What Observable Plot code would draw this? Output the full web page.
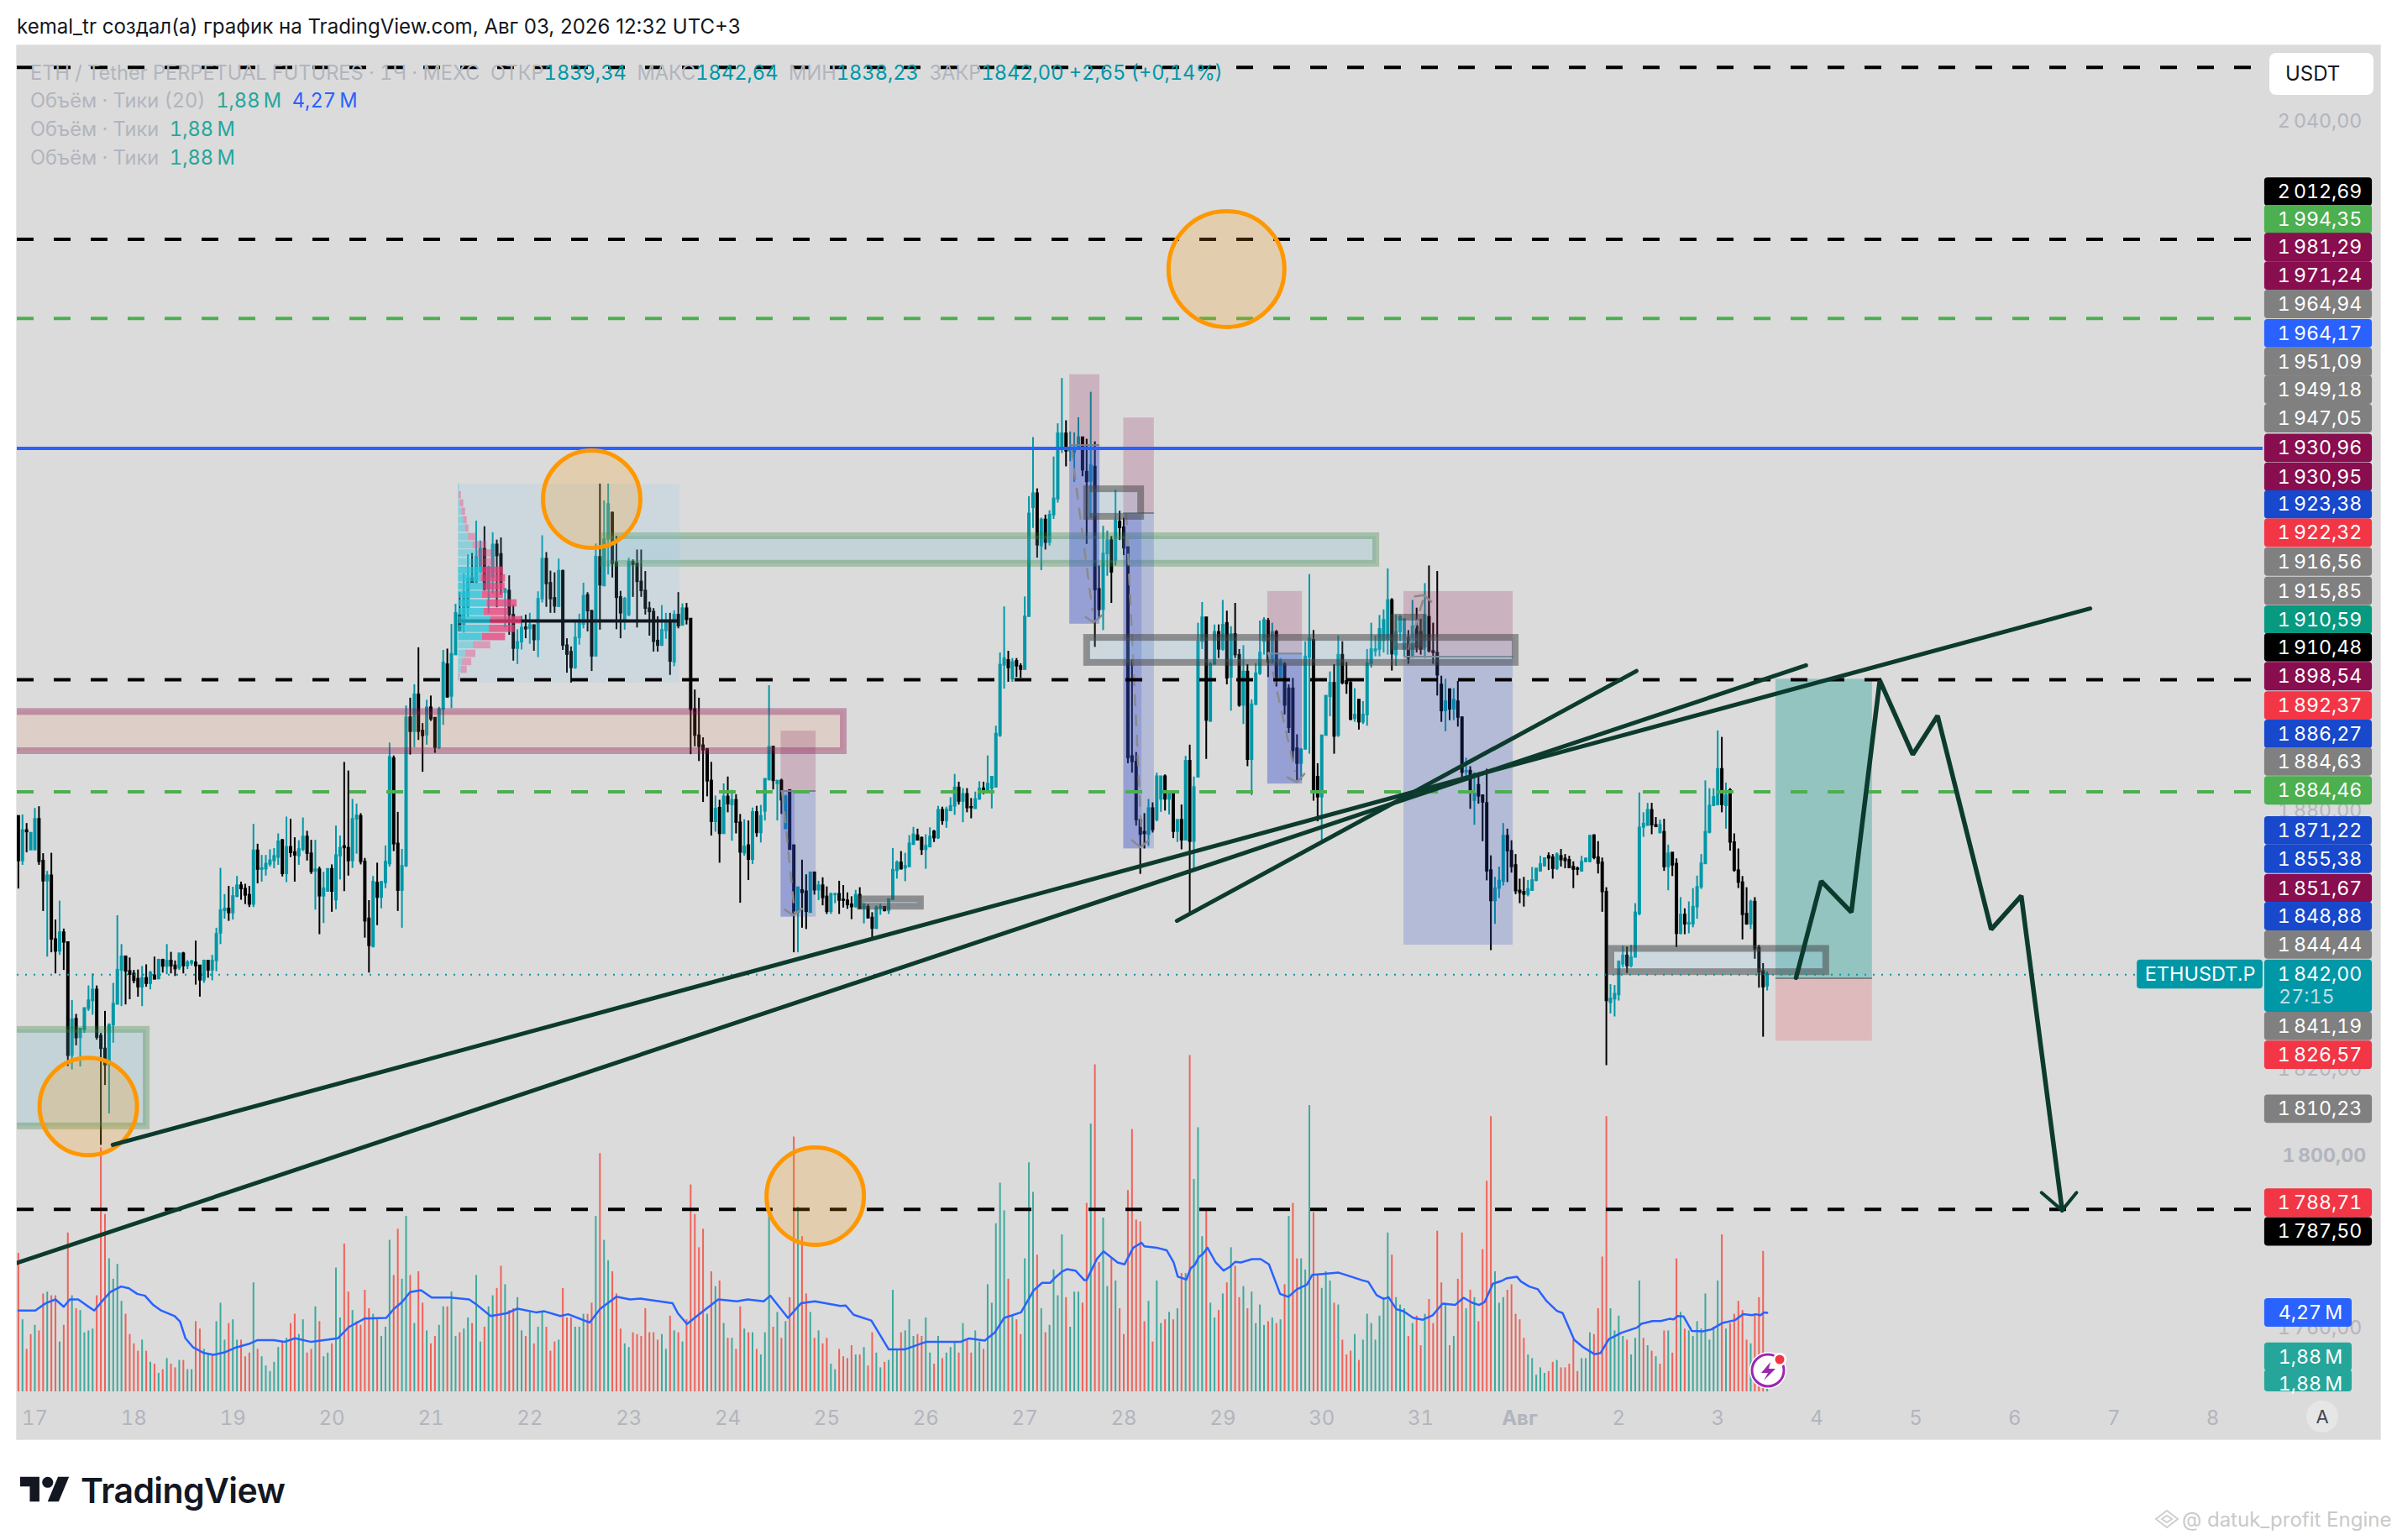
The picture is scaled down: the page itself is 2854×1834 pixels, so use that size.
<!DOCTYPE html>
<html lang="ru">
<head>
<meta charset="utf-8">
<title>ETHUSDT.P</title>
<script src="https://cdn.jsdelivr.net/npm/d3@7"></script>
<script src="https://cdn.jsdelivr.net/npm/@observablehq/plot@0.6"></script>
<style>
html,body{margin:0;padding:0;background:#fff;overflow:hidden}
#page{position:relative;width:2854px;height:1834px;background:#fff;font-family:Inter,"Noto Sans",sans-serif;overflow:hidden}
#title{position:absolute;left:20px;top:16px;font-size:24.05px;line-height:32px;color:#131722;white-space:nowrap}
#panel{position:absolute;left:20px;top:54px;width:2814px;height:1660px;background:#dbdbdb;outline:1px solid #e6e6e6}
#panel svg{position:absolute;left:0;top:0}
.row{position:absolute;left:36px;font-size:23.6px;line-height:34px;color:#b2b5be;white-space:pre;font-variant-numeric:tabular-nums}
.teal{color:#0097a7}.green{color:#26a69a}.blue{color:#2962ff}
#usdt{position:absolute;left:2702px;top:63px;width:124px;height:50px;border-radius:8px;background:#fff;color:#131722;font-size:24px;line-height:50px;text-indent:19px}
#auto{position:absolute;left:2746px;top:1668px;width:38px;height:38px;border-radius:19px;background:#e6e6e6;color:#434651;font-size:22px;line-height:38px;text-align:center}
#brand{position:absolute;left:96px;top:1750px;font-size:41px;line-height:50px;font-weight:600;color:#131722;letter-spacing:-.6px}
#logo{position:absolute;left:24px;top:1752px}
#bolt{position:absolute;left:2080px;top:1607px}
#mark{position:absolute;left:2598px;top:1796px;font-size:24px;line-height:28px;color:#c9c9c9;white-space:nowrap}
#markIcon{position:absolute;left:2565px;top:1797px}
</style>
</head>
<body>
<div id="page">
  <div id="title">kemal_tr создал(а) график на TradingView.com, Авг 03, 2026 12:32 UTC+3</div>
  <div id="panel"></div>
  <div class="row" style="top:70px">ETH / Tether PERPETUAL FUTURES · 1Ч · MEXC  ОТКР<span class="teal">1839,34</span>  МАКС<span class="teal">1842,64</span>  МИН<span class="teal">1838,23</span>  ЗАКР<span class="teal">1842,00 +2,65 (+0,14%)</span></div>
  <div class="row" style="top:103px">Объём · Тики (20)  <span class="green">1,88&#8201;M</span>  <span class="blue">4,27&#8201;M</span></div>
  <div class="row" style="top:137px">Объём · Тики  <span class="green">1,88&#8201;M</span></div>
  <div class="row" style="top:171px">Объём · Тики  <span class="green">1,88&#8201;M</span></div>
  <div id="usdt">USDT</div>
  <div id="auto">A</div>
  <svg id="logo" width="59" height="43" viewBox="0 0 36 26"><path fill="#131722" d="M14 22H7V11H0V4h14v18zM28 22h-8l7.5-18h8L28 22z"/><circle fill="#131722" cx="20" cy="8" r="4"/></svg>
  <div id="brand">TradingView</div>
  <svg id="bolt" width="50" height="50" viewBox="0 0 50 50"><circle cx="25" cy="25" r="22" fill="#fff"/><circle cx="25" cy="25" r="19" fill="none" stroke="#9c27b0" stroke-width="3"/><path d="M28 15 L17 28 H25 L20 37 L34 23 H26 Z" fill="#9c27b0"/><circle cx="39" cy="12" r="8" fill="#fff"/><circle cx="39" cy="12" r="5.5" fill="#f23645"/></svg>
  <svg id="markIcon" width="30" height="26" viewBox="0 0 30 26"><path d="M15 2 L28 12 L15 22 L2 12 Z M15 8 L21 12 L15 16 L9 12 Z" fill="none" stroke="#cfcfcf" stroke-width="2"/></svg>
  <div id="mark">@ datuk_profit Engine</div>
</div>
<script>
// ---------- candles: [open, high, low, close], one array per day, hourly bars ----------
const jul16 = [[1878.8,1878.8,1861.9,1868.4],[1868.4,1879.1,1867.4,1875.5],[1875.5,1877.1,1870.3,1875.1],[1870.9,1874.9,1870.9,1874.9]];
const jul17 = [[1870.9,1880.6,1870.9,1878.1],[1878.1,1881,1867.4,1868.2],[1868.4,1870.1,1856.7,1863.7],[1863.7,1866,1846.1,1865],[1865,1870.2,1847.1,1850.2],[1850.2,1854.7,1842.2,1847.4],[1847.4,1859.1,1846.5,1851.8],[1851.8,1852.6,1843,1849.5],[1849.5,1849.5,1820.7,1823.2],[1823.2,1836,1819.9,1831.6],[1831.7,1832.8,1825.5,1827.3],[1827.3,1829.4,1820.6,1829.4],[1829.2,1834.2,1828.4,1834.2],[1834.1,1839.4,1833.5,1836],[1835.9,1842.2,1832.6,1838.5],[1838.5,1839.4,1826.8,1827.4],[1827.8,1828.4,1802.4,1824.8],[1824.8,1833.5,1816.3,1821],[1821,1830.6,1809.7,1830.3],[1830.3,1840,1826.1,1835.2],[1835.1,1855.7,1835,1843.1],[1843,1849,1834.6,1846.2],[1846.2,1846.3,1835,1842.8],[1842.8,1845.9,1836.2,1842]];
const jul18 = [[1842.2,1843,1839.9,1840.6],[1841,1843.1,1836.8,1839.1],[1839.1,1843.9,1834.6,1841.2],[1841.2,1844.3,1839.1,1839.9],[1839.9,1842.8,1838.5,1842.4],[1841.8,1846.1,1840.9,1840.9],[1841,1845.6,1840.8,1845.4],[1845.4,1845.6,1842.4,1843.9],[1843.9,1849,1842,1845.2],[1845.2,1847.2,1842.2,1844],[1844.1,1845.2,1841.6,1843.3],[1843.5,1846.9,1843,1846.9],[1846.9,1847.2,1842.2,1844],[1844,1845.3,1843.2,1844.8],[1844.6,1845.3,1844,1845.1],[1844.8,1849.8,1839.6,1844],[1844.1,1844.1,1836.8,1840.7],[1840.7,1845.4,1840,1845.2],[1845.2,1845.3,1841.2,1843],[1843,1846.5,1840.6,1845.2],[1845.2,1852.8,1842.7,1851.4],[1851.6,1866.7,1849,1856.9],[1856.8,1860.6,1854.9,1857.3],[1857.3,1862.5,1854.4,1856.3]];
const jul19 = [[1856.3,1862.3,1854.7,1860.2],[1860.1,1864.8,1859.9,1862.7],[1862.7,1863.5,1859.3,1861.9],[1861.9,1863,1858.3,1860.4],[1860.5,1862.5,1857.6,1858.3],[1858.3,1876.9,1857.6,1870.8],[1870.8,1872.3,1863.1,1866.4],[1866.4,1869.7,1863.5,1866.7],[1866.5,1869.7,1864.9,1867.7],[1867.6,1871,1867,1868.5],[1868.4,1871.3,1866.6,1869.5],[1869.2,1874.7,1867.4,1872.9],[1873.2,1873.4,1864.7,1865.4],[1865.4,1878.6,1863.4,1871.6],[1871.6,1878.1,1869.2,1870.3],[1870.4,1873.8,1863.5,1869.7],[1869.5,1873.1,1867.4,1871.1],[1871,1878.4,1870.6,1874],[1874,1875.3,1868.4,1870.1],[1870.1,1873.2,1865.3,1865.9],[1866,1873.2,1857,1866.4],[1866.4,1867,1851.3,1860.2],[1860.2,1865.8,1853.9,1862],[1861.3,1866.5,1861.2,1866.5]];
const jul20 = [[1866.5,1867.5,1856.5,1861.3],[1859.3,1876.5,1857.1,1869.7],[1869.5,1874.2,1864,1871.4],[1871.8,1891.3,1861.3,1871.4],[1871.4,1889.3,1864.9,1868.4],[1868.4,1882.7,1866.7,1878.1],[1878.1,1881.6,1870,1878.9],[1878.8,1879.4,1867.5,1868.2],[1868.2,1869,1850.5,1854.4],[1855,1859.2,1842.4,1848.7],[1848.5,1864.8,1848.2,1863.5],[1863.3,1867.9,1853.4,1859.9],[1859.9,1863.5,1857.3,1863.5],[1863.3,1871.9,1862,1868.2],[1867.7,1895.8,1867,1892.5],[1892.2,1892.8,1870.6,1872.3],[1872.4,1879.7,1856.7,1861.5],[1861.5,1871.1,1852.8,1867.2],[1867.2,1904.4,1866.9,1901.7],[1901.7,1906.2,1893,1898.4],[1898.4,1909.3,1894.7,1907],[1907,1917.9,1896.4,1898.4],[1898.6,1900.3,1889,1897.4],[1897.6,1905.7,1895.3,1904]];
const jul21 = [[1904,1906.7,1900.8,1901.3],[1901.6,1901.7,1893.4,1894.7],[1894.7,1904.1,1894.3,1903.6],[1903.6,1917.3,1899.9,1914.4],[1914,1917.6,1906.2,1906.4],[1906.6,1923.3,1903.8,1916.4],[1916.2,1928,1916.2,1925.9],[1925.5,1930.7,1921.6,1921.8],[1923.3,1935,1921.3,1930.7],[1927.2,1939.5,1925,1934],[1934,1939.8,1932.9,1933],[1933,1947.3,1932.7,1938.9],[1935.6,1942.7,1935,1940.8],[1940.8,1946,1931.1,1931.4],[1931.4,1936.9,1925.9,1936.6],[1934.3,1944.6,1930.4,1941.8],[1941.8,1942.9,1927.2,1939.2],[1939.6,1943.4,1930.1,1933],[1930.7,1931.7,1922.6,1931.4],[1931.1,1934.6,1920.8,1925.5],[1925.5,1927.8,1914.8,1917.7],[1917.7,1922.1,1914,1919.2],[1919.2,1925.2,1917.4,1922.5],[1922.6,1925.5,1920,1922.2]];
const jul22 = [[1922.3,1925.9,1918.7,1923.1],[1923.1,1923.1,1917.1,1919.7],[1919.7,1930.9,1915.6,1929.2],[1929.2,1943.9,1928.3,1938.5],[1938.5,1940,1927.3,1932.7],[1932.9,1935.7,1925.9,1929.2],[1929.4,1935.3,1925.9,1927.5],[1927.4,1938.5,1927.4,1935.7],[1935.7,1935.9,1917.3,1918.4],[1918.4,1920,1912,1916.3],[1916.9,1918.1,1909.7,1913.2],[1913.2,1923.8,1912.9,1920.2],[1920.2,1925.7,1918.5,1923.6],[1923.3,1932.9,1922.3,1929.9],[1930.1,1930.7,1921.6,1926.4],[1926.4,1926.6,1912.4,1915.9],[1915.9,1942,1915.9,1939],[1938.9,1955.9,1922,1932.4],[1932.2,1952,1932.2,1943],[1943,1955.9,1934.8,1951.2],[1949.2,1949.4,1934.1,1937.4],[1937.7,1943.8,1922.1,1929.5],[1929.6,1931,1920,1925.9],[1924.2,1929.6,1922,1929.2]];
const jul23 = [[1925.5,1938.7,1925.1,1937.8],[1937.8,1938.3,1929.6,1937.2],[1937.4,1940.6,1922.5,1933.2],[1933.2,1940.6,1929.6,1931.1],[1931.1,1935.6,1925.5,1927],[1927,1928.5,1920.6,1926.2],[1926.2,1927,1916.9,1919.3],[1919.5,1925.1,1916.9,1918.4],[1918.4,1927.7,1918.2,1922],[1921.8,1925.9,1919.9,1924],[1924,1925.9,1911.5,1914.7],[1914.5,1926.5,1913.5,1925.5],[1925.5,1930.7,1922.3,1922.9],[1923.1,1928.1,1922.9,1927],[1927,1928.2,1923.2,1924.4],[1924.6,1924.6,1893.1,1903.5],[1903.6,1908.1,1894.9,1897.5],[1897.5,1906.2,1891.5,1894.9],[1895.2,1897,1882,1894.1],[1894.3,1894.5,1883.3,1886.9],[1887,1891.3,1874.2,1877.5],[1877.5,1883.5,1875.1,1880.5],[1880.7,1882.5,1867.9,1874.7],[1874.7,1886.3,1874.7,1883.3]];
const jul24 = [[1883.3,1887.9,1879.6,1881.6],[1881.4,1884.8,1873,1882.5],[1882.5,1883.8,1874.7,1877.3],[1877.3,1879.2,1858.6,1870.4],[1870.2,1878,1869.5,1871.7],[1872,1877.7,1863.9,1868.7],[1868.7,1880.7,1867.6,1879.7],[1879.7,1881.1,1873.9,1874.9],[1874.9,1881.3,1872.6,1878.8],[1879.9,1887.5,1877.7,1887.4],[1887.2,1909.1,1887,1894.9],[1894.9,1894.9,1884.9,1887],[1886.3,1887,1877.7,1887],[1887,1887.4,1879.2,1882.5],[1875.8,1883.7,1875.8,1883.3],[1884.8,1884.8,1871,1871],[1872,1872,1847.1,1856.4],[1856.4,1862.4,1847.1,1862.2],[1861.6,1868.6,1852.8,1861],[1861.3,1865.2,1852.5,1856.6],[1856.4,1865.7,1856.4,1865.7],[1865.7,1865.7,1860.5,1861.6],[1861.6,1863.7,1859.2,1862.7],[1862.7,1864.5,1858,1859.8]];
const jul25 = [[1860.1,1862.4,1856,1856.6],[1856.6,1860.9,1856,1860.7],[1860.5,1860.9,1858.5,1860.7],[1860.7,1863.7,1856,1859.2],[1859.4,1862.7,1857.5,1859.2],[1859.2,1861,1857.2,1858.2],[1858.3,1860.1,1854.8,1857.7],[1857.7,1861.6,1857.5,1860.5],[1860.5,1862.2,1857.2,1857.3],[1857.3,1858.3,1853.8,1858.3],[1857.7,1858.3,1855,1855.1],[1855.2,1856.4,1850.2,1852.7],[1852.7,1858,1852.5,1857.5],[1857.5,1858.4,1855.8,1857.7],[1857.7,1857.7,1856.6,1856.8],[1856.8,1859.5,1856,1859.5],[1859.4,1871.3,1859.2,1866.3],[1866.1,1868.4,1864.2,1868],[1868,1870.6,1866.3,1866.5],[1866.7,1870.2,1863.6,1867.2],[1867,1874.3,1867,1872.4],[1872.2,1876.2,1872,1874.5],[1874.3,1875.8,1873.2,1873.2],[1873.7,1874,1869.7,1871]];
const jul26 = [[1871,1874.5,1866.5,1871.9],[1871.6,1876.1,1871.6,1874],[1875.2,1875.5,1872.7,1873.7],[1873.7,1881.1,1873.4,1880.2],[1880.2,1880.9,1876.7,1877.7],[1877.7,1880.9,1876,1880.3],[1880,1883.1,1880,1881.1],[1881.1,1888.5,1879,1885.4],[1885.4,1886.7,1881.4,1882.2],[1882.2,1885.2,1877.3,1883.9],[1883.9,1885.2,1879.6,1880.7],[1880.9,1882.9,1878.2,1880.7],[1880.5,1884.4,1880.5,1882.7],[1882.7,1886.8,1882.5,1885.2],[1885.2,1886.7,1883.8,1884.8],[1884.8,1892.8,1884.6,1886.3],[1885.2,1887.9,1880.5,1887.9],[1885.5,1899.7,1885.4,1897.9],[1897.5,1916.7,1897.1,1913.9],[1913.8,1927.4,1908.3,1915.4],[1915,1917.1,1909.9,1913.2],[1910.6,1915.4,1909.9,1914.5],[1914.8,1915.4,1911,1913.6],[1913.6,1914.2,1910.8,1912.8]];
const jul27 = [[1912.8,1929.7,1912.8,1925.1],[1925.1,1953,1925.1,1949],[1950.4,1966.7,1945.6,1953.7],[1953.7,1954.8,1938.7,1941.7],[1941.5,1948,1935.8,1947.6],[1947.6,1948.7,1940.6,1942.3],[1942.3,1949.7,1941.5,1948.7],[1948.7,1962.2,1947.7,1952.5],[1952.4,1969.9,1951.5,1967.6],[1964.1,1980.4,1963,1967.6],[1967.6,1970.6,1959.9,1963.5],[1963.5,1968,1961.1,1964.1],[1963.2,1967.8,1956.3,1964.1],[1964.4,1971.3,1963.7,1966.7],[1966.7,1966.7,1957.6,1959.1],[1958.7,1966.3,1941.9,1956.4],[1956.5,1977.2,1948,1960.2],[1959.9,1965.7,1918,1931.3],[1931.5,1936.9,1924.5,1926.7],[1926.7,1946.1,1921.9,1939.7],[1939.7,1945,1934.5,1942.8],[1942.8,1943.7,1928.2,1935.4],[1938.2,1954.5,1936.9,1947.4],[1947.1,1949.6,1942.8,1945.7]];
const jul28 = [[1945.8,1948,1939.3,1941],[1941.2,1941.2,1891,1892.3],[1892.7,1915,1888.8,1891.4],[1891.4,1893.6,1876.5,1877.9],[1877.9,1877.9,1865.3,1874.5],[1875.1,1879.4,1871.2,1874.7],[1874.5,1882.7,1871.8,1880.6],[1880.6,1881.9,1874.9,1875.6],[1877.9,1888.8,1877.5,1888],[1882.7,1888,1879.7,1888],[1888,1888.4,1880,1882.7],[1882.7,1884.5,1879.1,1883.9],[1883.9,1884,1873.6,1875.2],[1875.2,1877.9,1872.7,1877.9],[1877.9,1881.4,1871,1873.2],[1873.2,1892.7,1873.2,1891.6],[1891.6,1895.3,1856.2,1872.9],[1872.9,1887.9,1866.6,1885.5],[1887.8,1923.6,1887.8,1919.3],[1919.3,1928.4,1917.5,1924.9],[1924.9,1924.9,1892,1901],[1900.8,1914.5,1900.6,1914],[1914,1923.2,1914,1921.5],[1921.5,1923.2,1915.4,1917.5]];
const jul29 = [[1917.5,1928.9,1917.1,1923.2],[1923.6,1926.4,1909.3,1910.8],[1911,1922.8,1903.2,1921],[1921,1928.2,1915.4,1916.2],[1916.2,1917.5,1904.1,1904.5],[1904.5,1918.4,1900.1,1912.3],[1912.3,1914,1890.3,1891.9],[1891.9,1905.8,1883.6,1904.7],[1904.7,1914.2,1904.5,1911.9],[1911.9,1924.1,1911.5,1916.7],[1919.3,1924.9,1916.2,1924.3],[1924.1,1924.7,1911,1914.5],[1914.5,1923.6,1914.1,1921.5],[1921.5,1921.9,1908.8,1911],[1911,1915.4,1910.6,1914.9],[1914,1914.5,1902.3,1904.5],[1908.4,1909.3,1898,1899.3],[1908.4,1910.8,1891.4,1894],[1894.5,1897.7,1887.1,1891],[1891,1894.5,1887.1,1894.2],[1894.3,1919.3,1894.2,1915.8],[1915.6,1934.9,1893.2,1920],[1919.7,1921.9,1882.3,1884.9],[1887.9,1891,1877.5,1883.2]];
const jul30 = [[1883.2,1897.5,1872.3,1897.5],[1897.5,1906.7,1897.5,1906.7],[1906.5,1912.3,1901.9,1909.7],[1909.7,1914,1893.2,1897.3],[1897.5,1920.6,1897.1,1916.2],[1916.2,1919.3,1909.3,1909.7],[1910.1,1914.5,1907.1,1909.5],[1909.7,1910.6,1901,1901.2],[1901.4,1908.4,1900.6,1902.3],[1905.8,1905.8,1898.8,1900.6],[1900.6,1905.4,1900.1,1902.3],[1902.3,1917.5,1899.7,1914.2],[1914.2,1923.6,1913.2,1917.5],[1917.1,1920.6,1915.8,1917.5],[1917.5,1925.4,1915.8,1922.2],[1919.5,1926.7,1916.7,1924.3],[1919.7,1936.2,1916.2,1928.9],[1928.9,1929.3,1912.5,1916.4],[1916.2,1925.4,1913.6,1921.5],[1921.5,1925.4,1919.3,1925],[1917.5,1924.5,1915.8,1924.5],[1920.2,1921.9,1914.1,1915.4],[1915.8,1928.9,1915.4,1922.8],[1922.8,1927.1,1916.7,1918]];
const jul31 = [[1921.5,1924.5,1916.2,1917.5],[1918,1932.8,1915.4,1925.4],[1925,1936.9,1916.7,1917.1],[1917.1,1923.6,1914.1,1916.7],[1916.7,1935.6,1906.7,1911.5],[1909.3,1911.3,1900.6,1903.2],[1903.2,1910.6,1898.4,1905.4],[1908.2,1908.4,1901,1903.6],[1903.6,1908.4,1901,1905.8],[1905.4,1910.1,1899.5,1901.7],[1901.7,1901.8,1887.6,1888.9],[1889,1892.3,1886.9,1889.3],[1889.3,1890.3,1880.4,1884.8],[1882.4,1888.9,1876.7,1884],[1886,1888.5,1881.6,1883.4],[1883.6,1883.6,1872.9,1882],[1881.8,1889.7,1863.8,1866],[1866.2,1869.6,1847.6,1859.1],[1859.1,1864.6,1853.7,1862],[1862,1867,1859.7,1863.8],[1863.6,1877.1,1862.6,1874.2],[1874.2,1875.8,1863.4,1870.7],[1870.7,1873.1,1865.6,1867],[1867.4,1869.9,1860.6,1861.4]];
const aug01 = [[1861.5,1864.2,1858.5,1861],[1861.2,1864.6,1857.7,1860.6],[1860.6,1863.9,1860.1,1861.8],[1861.5,1866.9,1861.4,1863.9],[1863.8,1866.6,1863.6,1866.6],[1866,1869.5,1865.8,1867.6],[1867.2,1869,1867,1869],[1869.5,1870.3,1866.2,1869],[1869.2,1869.9,1864.2,1866.6],[1866.6,1870.3,1866.2,1869.9],[1869.5,1871.1,1867,1868.6],[1868.9,1869.9,1866.6,1868.4],[1868.6,1869.5,1866.6,1866.8],[1867,1868.2,1862,1866.4],[1866.6,1867,1865,1866.4],[1866,1869.5,1865.8,1868.2],[1868.2,1869.1,1868,1868.9],[1868.2,1874.3,1868,1874.2],[1874.3,1874.5,1868.7,1869.1],[1869.2,1872.9,1865.4,1867.8],[1868,1869.1,1856.5,1861.2],[1861.2,1862.2,1820.9,1835.9],[1835.5,1839.7,1832.9,1836.4],[1836.3,1839.5,1832.2,1837.5]];
const aug02 = [[1837.3,1845.2,1835.9,1845],[1844.4,1848.6,1843.6,1846.4],[1846.4,1848.4,1842.3,1844],[1844,1848.8,1843.6,1846],[1846,1858.5,1846,1856.4],[1856.1,1884.2,1855.7,1876.1],[1876.2,1879.6,1873.9,1877],[1876.6,1881.8,1876.5,1880.2],[1880.2,1881.8,1874.5,1876.7],[1876.7,1878.5,1876.3,1876.3],[1874.9,1877.9,1874.7,1876.7],[1875.1,1878.1,1866,1867],[1867,1872.1,1861.5,1870.1],[1870.3,1870.3,1864.8,1867.4],[1867.7,1868.9,1848.3,1851.5],[1851.5,1859.9,1851.3,1855.9],[1855.9,1857.3,1851.3,1853.7],[1853.7,1858.9,1851.5,1854],[1853.7,1862,1852.9,1857.7],[1857.7,1864.9,1854.9,1862.3],[1862.3,1869.9,1861.8,1867.8],[1867.7,1887,1867.7,1875.1],[1875,1885.2,1874.7,1881.2],[1881.2,1885.2,1881.2,1883.2]];
const aug03 = [[1881.4,1898.6,1881.2,1889.7],[1889.7,1897.1,1879.6,1881.4],[1881.2,1886.5,1875.8,1883.6],[1884.8,1885.2,1870.7,1872.7],[1872.7,1874.7,1865.8,1866.2],[1866.2,1871.2,1862,1863.4],[1863.4,1864.8,1850.1,1855.9],[1856.1,1862.2,1853.5,1853.7],[1853.7,1859.3,1852.5,1858.9],[1858.9,1859.9,1845.6,1847.8],[1848.2,1848.8,1838.9,1842.6],[1842.8,1844.6,1827.5,1839.1],[1839.34,1842.64,1838.23,1842]];

// ---------- tick volume in millions per hour; negative = red bar, positive = green bar ----------
const volumes = [
-7.5,3.9,-2.3,-3.1,
3.6,-3.3,-5.3,5.4,-5.2,-5.2,2.7,-3.6,-8.6,5.2,-4.5,4.4,3.2,3.3,3.4,-5.2,-13.2,-9.6,7.2,6.1,6.9,4.9,-4.2,-3.1,
-2.6,-2.2,2.8,-2.2,1.6,-1.5,1,-1.2,1.8,-1.5,-1.3,1.7,-1.7,1.2,1.2,-3.8,-3.4,2.3,2,-2,3.8,4.8,2.8,-3.7,
3.9,2.8,-2.8,-1.9,-2.1,5.9,-2.3,1.9,1.4,1.1,1.6,2.4,-2.7,2.9,-3.7,-4.2,3.1,3.9,-2.1,-2.3,4.6,-3.8,1.9,2.1,
-2.6,6.7,4,-8,-5.4,4.4,-3.8,-3.6,-5.5,-4.5,4.2,-4,3,3.5,8.2,-6.3,-8.8,6.1,9.5,-6.3,3.7,-6.5,-4.8,3.3,
-2.6,-3,3.6,4.6,-4.6,5.4,3,-3.2,3.4,4,-3.7,6.3,2.7,-3.5,4.6,5.2,-5.6,-6.8,5.8,-4.4,-4.5,5.1,3.3,-3,
4.3,-2.6,3.5,4.3,-3.5,-2.2,-2.7,2.8,-5.6,-4,-4,3.5,3.5,4.2,-4.2,-4.8,9.5,-12.9,8.2,7.1,-6.5,-5.3,-3.4,2.6,
2.4,-3.2,-3.1,-3,-4.5,-3.2,-3.2,-2.8,3.1,2.3,-4.1,3.3,-3.2,2.7,-3.9,-11.2,-9.6,-7.8,-8.8,4.2,-6.5,5.7,-6,3.7,
-2.9,2.9,-2.3,-4.6,3.4,-3.2,3.2,-2.3,2,3.2,9.8,-3.5,4.3,-2.9,3.8,-5.1,-13.8,10,-8.4,-5.3,4.3,-2.9,3.3,-2.6,
-2.9,1.5,1.2,-2.3,-1.9,-1.8,-2.5,2,-2,2.4,-1.4,-3.2,2.1,1.3,-1.6,1.7,5.5,2.3,-3.2,3.3,3.9,3,-3.1,-3,
4,2.1,-1.5,3,-1.8,2.1,2.4,2.7,-2.1,3.7,-2.8,-2.1,3.3,2.7,-2.3,5.8,4.8,9.1,11.3,9.8,-6.1,4.1,-3.9,-3.1,
7.2,12.4,10.8,-7.4,4.5,-3.2,3.6,6.6,5.2,8.5,-5.1,3.5,5.4,5.4,-4.8,-10.2,14.5,-17.7,-7,9.4,5.7,-7.2,6,-4.5,
-3.1,-10.9,-14.2,-9.3,-9.2,-3.8,4.9,-2.7,6,3.7,-3.9,4.3,-3.9,4.5,-6.4,6.4,-18.2,11.5,14.3,8.4,-9.8,4.8,4,-4.4,
5.3,-5.9,7.8,-6.8,-5.1,5.7,-4.5,5.4,3.7,4.7,3.6,-3.8,4,-3.7,3.9,-5.8,9.5,-10.2,-7.2,7.2,6.6,15.5,-9.7,-6.3,
5.6,6.5,6,-4.8,4.7,-2.8,-2,-2.2,3.1,-1.7,2.8,4.2,3.7,2.8,4.1,5.1,8.6,-7.4,5.1,4.7,4.5,-3,3.7,-4.1,
-2.5,4.2,-5,-3.7,-8.7,-5.9,4.8,-2.5,3,-6.1,-8.6,4.5,-5.5,5.1,-3.8,-7.7,-11.4,-14.9,6.5,4.8,5.1,-5.5,-5.8,-4.2,
-3.9,-2.9,2,1.8,0.9,1.3,1,-1.1,-1.6,1.7,-1.3,-1.3,-1.5,-2.8,-1.1,1.8,1.8,3.2,-3.1,-4.5,-7.3,-14.9,4.5,3.3,
4.1,3,-2.8,2,2.9,6,-2.9,2.5,-2.2,1.9,-1.5,-3.3,3.3,-2.1,-7.2,4.3,-3.4,3.3,3,3.8,3.4,5.3,2.8,3.5,
6,-8.5,3.4,-3.7,-4.2,-4.9,-4.4,-2.8,2.6,-4.2,-5.1,-7.6,1.88];

// ---------- volume moving average (20), read at hour marks ----------
const maHours = [-4,0.1,2.7,5,7,8.5,10.5,12.4,14.4,16.3,18.3,20.9,22.8,24.8,26.7,28.7,30.6,33.9,35.2,36.5,38.4,41,43.3,46.2,48.8,52,54,57.9,60.5,63.1,67,73.5,76.1,80,85.2,87.1,89,91,93.6,96.2,100.7,105.3,107.2,110.5,114.4,117,121.5,123.5,127.4,129.3,134.5,137.1,141,144.3,146.8,154.6,155.9,158.1,161.1,165.7,170.2,172.8,176.7,178.3,182.6,185.8,189.1,195.3,196.6,198.5,202.8,207,211,216,221.8,224.5,226.5,230.3,232.7,235,239.1,242.2,244.2,246.2,247.2,249,250.3,252.3,254.4,255,257.5,259.1,262.5,264.2,266.3,268.3,269,272,274.4,276.1,277.1,279.2,280.2,281.2,282.2,283.2,284.3,286.3,288.2,289.7,291,292.4,295.1,297.2,299.2,301.9,303.9,306,308.4,309.7,312.1,316.1,319.6,321.6,323.3,325.3,327,328.2,330.1,331.8,334.2,336.5,338.9,341.3,344.3,346.4,348.4,350.1,351.5,353.5,355.6,356.9,359.3,360.3,362.3,364.4,366.4,369,370.4,373.2,375.2,378.2,379.6,381.6,384.7,388.4,389.5,392.2,394.2,396.3,397.3,398.3,399.7,401.7,404.4,406.5,409.2,412.2,414.2,416.3,417.3,418.3,419.3,420];
const maValues = [4.4,4.4,4.8,5,4.6,5,5,4.7,4.4,4.9,5.4,5.7,5.6,5.3,5.2,4.7,4.4,4.1,3.8,2.9,2.4,2.1,2,2.15,2.4,2.6,2.8,2.8,2.7,2.9,2.7,2.9,3.5,3.97,4,4.5,4.85,5.4,5.5,5.1,5.1,5,4.7,4.1,4.25,4.5,4.3,4.36,4.1,4.2,3.75,4.5,5.15,5,5.05,4.8,4.25,3.67,4.2,5,4.9,5,4.9,5.2,4,4.8,4.9,4.65,4.67,4.17,3.86,2.3,2.3,2.7,2.71,2.71,2.89,2.77,3.2,4,4.3,5.5,5.9,5.9,6.15,6.5,6.64,6.56,6.05,6.05,7.2,7.6,7,6.9,7.8,8.07,7.87,7.8,7.66,7,6.23,6.08,6.68,6.86,7.3,7.47,7.8,7,6.56,6.76,7.03,7,7.18,7.18,6.9,5.3,5.14,5.55,5.8,6.33,6.37,6.45,6.2,6.05,5.95,5.23,5.03,5.12,4.47,4.36,4,3.9,4.14,4.77,4.7,5.09,4.83,4.7,4.86,5.85,6,6.15,6.23,5.97,5.7,5.55,4.94,4.38,4.26,2.82,2.44,2.03,2.1,2.85,3.2,3.47,3.68,3.83,3.83,3.95,3.92,4.1,4.08,3.3,3.27,3.38,3.73,3.88,4.2,4.15,4.2,4.14,4.3,4.27];

// ---------- drawings on the chart, in chart units (hours from 17 July 00:00, price) ----------
const blackLevels = [2052.6, 2012.69, 1910.48, 1787.5];
const greenLevels = [1994.35, 1884.46];
const blueLevel = 1964.17;
const lastPrice = 1842;
const pocPrice = 1924.1;

const shortFrom   = [180.9, 250.9, 264, 298.9, 331.9];
const shortTo     = [189.4, 258.2, 271.4, 307.3, 358.4];
const shortStop   = [1898.54, 1981.29, 1971.24, 1930.96, 1930.95];
const shortEntry  = [1884.63, 1964.94, 1949.18, 1916.56, 1915.85];
const shortTarget = [1855.38, 1923.38, 1871.22, 1886.27, 1848.88];
const shortDarkTo = [184.3, 258.2, 268.4, 307.3, 331.9];

const longFrom = 422.1, longTo = 445.5, longTarget = 1910.59, longEntry = 1841.19, longStop = 1826.57;

const vpFrom = 102.7, vpTo = 156.4, vpTop = 1955.9, vpBottom = 1909.7;
const vpPrice = [1955.1,1953.3,1951.4,1949.5,1947.5,1945.6,1943.6,1941.7,1939.8,1937.8,1935.8,1934,1932.1,1930.2,1928.2,1926.2,1924.3,1922.3,1920.4,1918.5,1916.5,1914.6,1912.8,1911];
const vpUp    = [0.27,0.1,0.45,0.9,1.2,1.7,2.4,3.5,4.5,5.1,5.7,5.5,6,5.8,6.9,6.2,7.8,7.5,5.8,3.6,1.7,1,0.7,0.1];
const vpDown  = [0,0.6,0.82,0.82,0.9,0.82,2,3.4,3.9,3.8,5.2,5.9,5.3,5.1,7.3,6,7.5,6.2,5.6,4.2,2.5,2.2,1.4,0.3];

const greenZoneX1 = [-8, 137.9], greenZoneX2 = [27.1, 325.2], greenZoneY1 = [1829.2, 1943.8], greenZoneY2 = [1806.8, 1937.4];
const pinkZone = [-8, 196.1, 1903, 1893.9];
const grayZoneX1 = [255.1, 255.1, 329.7, 382.2, 200.2];
const grayZoneX2 = [268.2, 359, 336.4, 434.3, 214.8];
const grayZoneY1 = [1954.7, 1920.2, 1924.9, 1848, 1859.5];
const grayZoneY2 = [1948.3, 1914.4, 1918.1, 1842.6, 1857.8];

const circleHours = [12.95, 135, 189.2], circlePrices = [1811.4, 1952.4, 1790.6];
const bigCircleHour = 288.9, bigCirclePrice = 2005.8;

const trendLines = [
  [[18.9,1802.5],[498.3,1927]],
  [[-4.28,1775.1],[429.4,1913.8]],
  [[276.9,1854.5],[388.3,1912.5]]
];
const forecast = [[427,1841.3],[433.1,1863.7],[440.4,1856.5],[447.3,1910.3],[455.3,1893.1],[461.3,1902.1],[474.3,1852.5],[481.6,1860.3],[491.5,1787.3]];
const arrowHead = [[486.5,1791.4],[491.5,1787.3],[495,1791.4]];
const tradePaths = [
  [[251.3,1964.1],[256.4,1926.6]], [[254.8,1925],[256.7,1923.8],[258.7,1925.4]],
  [[264.6,1948.9],[268.3,1874.5]], [[266,1873.2],[268,1871.6],[270.1,1873.2]],
  [[299.1,1916.7],[305.5,1889.3]], [[303.7,1887.8],[306,1886.7],[307.8,1888.6]],
  [[181.2,1884.4],[184.2,1856.4]], [[181.8,1857.1],[183.9,1855.8],[186,1857.3]],
  [[333,1917.6],[336.7,1929.4]], [[334.6,1929.8],[336.7,1930.1],[338.6,1928.6]]
];

// ---------- axis texts ----------
const dayHours  = [0,24,48,72,96,120,144,168,192,216,240,264,288,312,336,384,408,432,456,480,504,528];
const dayLabels = ["17","18","19","20","21","22","23","24","25","26","27","28","29","30","31","2","3","4","5","6","7","8"];
const monthHour = 360, monthLabel = "Авг";
const axisPrices = [2040, 1880, 1820, 1760];
const axisPriceLabels = ["2\u2009040,00","1\u2009880,00","1\u2009820,00","1\u2009760,00"];
const boldPrice = 1800, boldPriceLabel = "1\u2009800,00";

const tagLabels = ["2\u2009012,69","1\u2009994,35","1\u2009981,29","1\u2009971,24","1\u2009964,94","1\u2009964,17","1\u2009951,09","1\u2009949,18","1\u2009947,05","1\u2009930,96","1\u2009930,95","1\u2009923,38","1\u2009922,32","1\u2009916,56","1\u2009915,85","1\u2009910,59","1\u2009910,48","1\u2009898,54","1\u2009892,37","1\u2009886,27","1\u2009884,63","1\u2009884,46","1\u2009871,22","1\u2009855,38","1\u2009851,67","1\u2009848,88","1\u2009844,44","1\u2009841,19","1\u2009826,57","1\u2009810,23","1\u2009788,71","1\u2009787,50"];

// ---------- layout and colours ----------
const tagSlots = [2023.7,2017.3,2010.8,2004.2,1997.6,1990.8,1984.2,1977.7,1971.1,1964.2,1957.5,1951.1,1944.5,1937.8,1931,1924.3,1917.9,1911.2,1904.4,1897.8,1891.4,1884.7,1875.4,1868.8,1862,1855.5,1848.9,1830,1823.3,1810.8,1789,1782.3];
const BLACK="#000000",GRN="#4caf50",MAR="#880e4f",GRY="#808080",BLU="#2962ff",DKB="#1848cc",RED="#f23645",TEA="#089981";
const tagColors = [BLACK,GRN,MAR,MAR,GRY,BLU,GRY,GRY,GRY,MAR,MAR,DKB,RED,GRY,GRY,TEA,BLACK,MAR,RED,DKB,GRY,GRN,DKB,DKB,MAR,DKB,GRY,GRY,RED,GRY,RED,BLACK];

const candleUp = "#0097a7", candleDown = "#000000";
const lineDark = "#0c3b2e";
const W = 2814, H = 1660, BASE = 57;
const xDomain = [-4.276, 568.72];
const axisEnd = 540.2;
const font = "Inter, 'Noto Sans', sans-serif";

const candles = [jul16,jul17,jul18,jul19,jul20,jul21,jul22,jul23,jul24,jul25,jul26,jul27,jul28,jul29,jul30,jul31,aug01,aug02,aug03]
  .flat().map(([o,hi,lo,c],i)=>({h:i-4,o,hi,lo,c,top:Math.max(o,c)+0.15,bot:Math.min(o,c)-0.15}));
const up = candles.filter(d=>d.c>=d.o), down = candles.filter(d=>d.c<d.o);
const bars = volumes.map((v,i)=>({h:i-4,v:Math.abs(v),red:v<0}));
const ma = maHours.map((h,i)=>({h,v:maValues[i]}));
const shorts = shortFrom.map((x1,i)=>({x1,x2:shortTo[i],stop:shortStop[i],entry:shortEntry[i],target:shortTarget[i],dark:shortDarkTo[i]}));
const vpRows = vpPrice.map((p,i)=>({p,y1:p-0.85,y2:p+0.85,a:vpFrom,b:vpFrom+vpUp[i],c:vpFrom+vpUp[i]+vpDown[i],strong:p>1920&&p<1936}));
const greenZones = greenZoneX1.map((x1,i)=>({x1,x2:greenZoneX2[i],y1:greenZoneY1[i],y2:greenZoneY2[i]}));
const grayZones = grayZoneX1.map((x1,i)=>({x1,x2:grayZoneX2[i],y1:grayZoneY1[i],y2:grayZoneY2[i]}));
const tags = tagLabels.map((t,i)=>({t,at:tagSlots[i],fill:tagColors[i]}));
const seg = a => a.map(([h,p])=>({h,p}));
const tagHalf = 3.3, tagX1 = 540.6, tagX2 = 566.7, tagText = 564.2, legendX1 = 509.7;
const digits = {fontVariant:"tabular-nums"};
const tagFont = 23.2;

const rectXY = (data,opts) => Plot.rect(data,{x1:"x1",x2:"x2",y1:"y1",y2:"y2",...opts});

const pricePlot = Plot.plot({
  width:W, height:H, margin:0, marginBottom:BASE,
  x:{domain:xDomain, range:[0,W]},
  y:{domain:[1745.17,2057.64], range:[H-BASE,0], axis:null},
  style:{background:"transparent",fontFamily:font},
  marks:[
    // candles
    Plot.ruleX(up,{x:"h",y1:"lo",y2:"hi",stroke:candleUp,strokeWidth:2}),
    Plot.ruleX(down,{x:"h",y1:"lo",y2:"hi",stroke:candleDown,strokeWidth:2}),
    Plot.ruleX(up,{x:"h",y1:"bot",y2:"top",stroke:candleUp,strokeWidth:4}),
    Plot.ruleX(down,{x:"h",y1:"bot",y2:"top",stroke:candleDown,strokeWidth:4}),
    // zones
    rectXY(greenZones,{fill:"rgb(99,179,199)",fillOpacity:.2,stroke:"#2e7d32",strokeOpacity:.3,strokeWidth:8}),
    Plot.rect([pinkZone],{x1:d=>d[0],x2:d=>d[1],y1:d=>d[2],y2:d=>d[3],fill:"#e89060",fillOpacity:.15,stroke:"#880e4f",strokeOpacity:.35,strokeWidth:8}),
    // volume profile
    Plot.rect([0],{x1:vpFrom,x2:vpTo,y1:vpTop,y2:vpBottom,fill:"rgb(127,200,240)",fillOpacity:.15}),
    Plot.ruleY([pocPrice],{x1:vpFrom,x2:vpTo,stroke:"#131722",strokeWidth:4}),
    Plot.rect(vpRows.filter(d=>d.strong),{x1:"a",x2:"b",y1:"y1",y2:"y2",fill:"#26c6da",fillOpacity:.75}),
    Plot.rect(vpRows.filter(d=>d.strong),{x1:"b",x2:"c",y1:"y1",y2:"y2",fill:"#ec407a",fillOpacity:.75}),
    Plot.rect(vpRows.filter(d=>!d.strong),{x1:"a",x2:"b",y1:"y1",y2:"y2",fill:"#26c6da",fillOpacity:.4}),
    Plot.rect(vpRows.filter(d=>!d.strong),{x1:"b",x2:"c",y1:"y1",y2:"y2",fill:"#ec407a",fillOpacity:.4}),
    // short and long position tools
    Plot.rect(shorts,{x1:"x1",x2:"x2",y1:"stop",y2:"entry",fill:"#880e4f",fillOpacity:.2}),
    Plot.rect(shorts,{x1:"x1",x2:"x2",y1:"entry",y2:"target",fill:"#2947c4",fillOpacity:.22}),
    Plot.rect(shorts,{x1:"x1",x2:"dark",y1:"entry",y2:"target",fill:"#3f51d0",fillOpacity:.25}),
    Plot.ruleY(shorts,{y:"entry",x1:"x1",x2:"x2",stroke:"#808080",strokeWidth:2}),
    Plot.rect([0],{x1:longFrom,x2:longTo,y1:longTarget,y2:longEntry,fill:"#009688",fillOpacity:.32}),
    Plot.rect([0],{x1:longFrom,x2:longTo,y1:longEntry,y2:longStop,fill:"#f23645",fillOpacity:.2}),
    Plot.ruleY([longEntry],{x1:longFrom,x2:longTo,stroke:"#808080",strokeWidth:2}),
    ...tradePaths.map((p,i)=>Plot.line(seg(p),{x:"h",y:"p",stroke:"#8a8a8a",strokeWidth:2.5,strokeDasharray:i%2?null:"12,12"})),
    // grey zones
    rectXY(grayZones,{fill:"rgb(127,200,240)",fillOpacity:.15,stroke:"#424242",strokeOpacity:.5,strokeWidth:8}),
    // levels
    Plot.ruleY(blackLevels,{x1:xDomain[0],x2:axisEnd,stroke:"#000",strokeWidth:4,strokeDasharray:"20,24"}),
    Plot.ruleY(greenLevels,{x1:xDomain[0],x2:axisEnd,stroke:"#4caf50",strokeWidth:4,strokeDasharray:"20,24"}),
    Plot.ruleY([blueLevel],{x1:xDomain[0],x2:axisEnd,stroke:"#2962ff",strokeWidth:4}),
    Plot.ruleY([lastPrice],{x1:xDomain[0],x2:legendX1,stroke:"#0097a7",strokeWidth:2,strokeDasharray:"2,8"}),
    // circles
    Plot.dot(circleHours.map((h,i)=>({h,p:circlePrices[i]})),{x:"h",y:"p",r:58,fill:"#ff9800",fillOpacity:.2,stroke:"#ff9800",strokeWidth:5}),
    Plot.dot([{h:bigCircleHour,p:bigCirclePrice}],{x:"h",y:"p",r:69,fill:"#ff9800",fillOpacity:.2,stroke:"#ff9800",strokeWidth:5}),
    // trend lines and the forecast path
    ...trendLines.map(l=>Plot.line(seg(l),{x:"h",y:"p",stroke:lineDark,strokeWidth:5,strokeLinecap:"round"})),
    Plot.line(seg(forecast),{x:"h",y:"p",stroke:lineDark,strokeWidth:5.5,strokeLinejoin:"miter"}),
    Plot.line(seg(arrowHead),{x:"h",y:"p",stroke:lineDark,strokeWidth:4}),
    // price axis
    Plot.text(axisPrices.map((p,i)=>({p,t:axisPriceLabels[i]})),{x:()=>tagText,y:"p",text:"t",textAnchor:"end",fontSize:tagFont,fill:"#b2b5be",...digits}),
    Plot.text([boldPriceLabel],{x:()=>tagText+1,y:()=>boldPrice,textAnchor:"end",fontSize:tagFont,fontWeight:700,fill:"#b2b5be",...digits}),
    Plot.rect(tags,{x1:tagX1,x2:tagX2,y1:d=>d.at-tagHalf,y2:d=>d.at+tagHalf,fill:"fill",rx:4}),
    Plot.text(tags,{x:()=>tagText,y:"at",text:"t",textAnchor:"end",fontSize:tagFont,fill:"#fff",...digits}),
    // current price tags
    Plot.rect([0],{x1:tagX1,x2:tagX2,y1:1845.4,y2:1833.3,fill:"#0097a7",rx:4}),
    Plot.text(["1\u2009842,00"],{x:()=>tagText,y:()=>1842.1,textAnchor:"end",fontSize:tagFont,fill:"#fff",...digits}),
    Plot.text(["27:15"],{x:()=>tagX1+3.4,y:()=>1836.7,textAnchor:"start",fontSize:tagFont,fill:"#b7dfe4",...digits}),
    Plot.rect([0],{x1:legendX1,x2:axisEnd,y1:1845.4,y2:1838.7,fill:"#0097a7",rx:4}),
    Plot.text(["ETHUSDT.P"],{x:()=>(legendX1+axisEnd)/2,y:()=>1842,fontSize:23.5,fill:"#fff"}),
    // time axis
    Plot.axisX(dayHours,{anchor:"bottom",tickSize:0,tickPadding:22,fontSize:24,fill:"#b2b5be",label:null,tickFormat:(d,i)=>dayLabels[dayHours.indexOf(d)]}),
    Plot.axisX([monthHour],{anchor:"bottom",tickSize:0,tickPadding:22,fontSize:24,fontWeight:700,fill:"#b2b5be",label:null,tickFormat:()=>monthLabel})
  ]
});

const volumeScale = {x:{domain:xDomain, range:[0,W], axis:null}, y:{domain:[0,72.86], range:[H-BASE,0], axis:null}};
const base = {width:W,height:H,margin:0,marginBottom:BASE,style:{background:"transparent",fontFamily:font},...volumeScale};

const volumePlot = Plot.plot({...base, marks:[
  Plot.ruleX(bars.filter(d=>d.red),{x:"h",y1:0,y2:"v",stroke:"#ef6259",strokeWidth:2}),
  Plot.ruleX(bars.filter(d=>!d.red),{x:"h",y1:0,y2:"v",stroke:"#3fa99c",strokeWidth:2}),
  Plot.line(ma,{x:"h",y:"v",stroke:"#2962ff",strokeWidth:2.5})
]});

const volumeTags = ["4,27\u2009M","1,88\u2009M","1,88\u2009M"];
const volumeTagAt = [4.27,1.88,0.41];
const volumeTagColors = ["#2962ff","#26a69a","#26a69a"];
const volumeTagPlot = Plot.plot({...base, marks:[
  Plot.rect(volumeTags,{x1:tagX1,x2:561.8,y1:(d,i)=>Math.max(0,volumeTagAt[i]-0.77),y2:(d,i)=>volumeTagAt[i]+0.77,fill:(d,i)=>volumeTagColors[i],rx:4}),
  Plot.text(volumeTags,{x:()=>559.5,y:(d,i)=>volumeTagAt[i],textAnchor:"end",fontSize:tagFont,fill:"#fff",...digits})
]});

const panel = document.getElementById("panel");
panel.append(volumePlot, pricePlot, volumeTagPlot);
</script>
</body>
</html>
